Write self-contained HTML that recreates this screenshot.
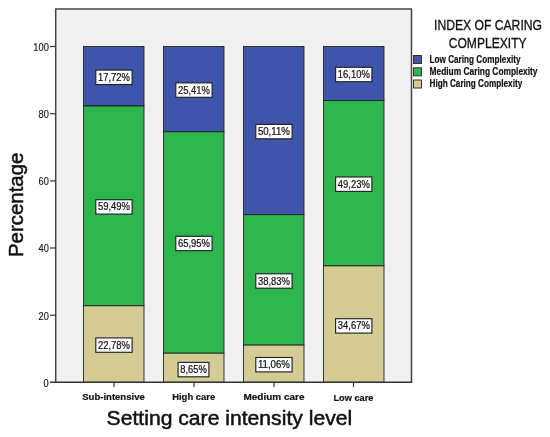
<!DOCTYPE html>
<html><head><meta charset="utf-8">
<style>
html,body{margin:0;padding:0;background:#fff;}
svg{display:block;}
text{font-family:"Liberation Sans",sans-serif;fill:#111;}
.v{font-size:10.2px;text-anchor:middle;stroke:#111;stroke-width:0.22px;}
.yt{font-size:10.2px;text-anchor:end;fill:#111;stroke:#111;stroke-width:0.12px;}
.xl{font-size:9.8px;font-weight:bold;text-anchor:middle;stroke:#111;stroke-width:0.2px;}
.lg{font-size:10px;font-weight:bold;stroke:#111;stroke-width:0.2px;}
.lt{font-size:14.1px;text-anchor:middle;stroke:#111;stroke-width:0.3px;}
.ax{font-size:20.6px;stroke:#111;stroke-width:0.5px;}
</style></head><body>
<svg width="550" height="437" viewBox="0 0 550 437">
<rect x="0" y="0" width="550" height="437" fill="#fff"/>
<!-- plot area -->
<rect x="56" y="9" width="355.5" height="373.3" fill="#f0f0f0"/>
<!-- bars -->
<g stroke="#1c1c1c" stroke-width="0.85">
<rect x="83.5" y="46.5" width="60.5" height="59.5" fill="#3f55ac"/>
<rect x="83.5" y="106" width="60.5" height="199.8" fill="#2cb64c"/>
<rect x="83.5" y="305.8" width="60.5" height="76.5" fill="#d5cb95"/>

<rect x="163.5" y="46.5" width="60.5" height="85.3" fill="#3f55ac"/>
<rect x="163.5" y="131.8" width="60.5" height="221.4" fill="#2cb64c"/>
<rect x="163.5" y="353.2" width="60.5" height="29.1" fill="#d5cb95"/>

<rect x="243.5" y="46.5" width="60.5" height="168.2" fill="#3f55ac"/>
<rect x="243.5" y="214.7" width="60.5" height="130.4" fill="#2cb64c"/>
<rect x="243.5" y="345.1" width="60.5" height="37.2" fill="#d5cb95"/>

<rect x="323.5" y="46.5" width="60.5" height="54" fill="#3f55ac"/>
<rect x="323.5" y="100.5" width="60.5" height="165.4" fill="#2cb64c"/>
<rect x="323.5" y="265.9" width="60.5" height="116.4" fill="#d5cb95"/>
</g>
<!-- frame -->
<g fill="none" stroke="#444" stroke-width="1.5">
<path d="M55.7 382.3 V9 H411.5 V382.3"/>
</g>
<line x1="50" y1="382.3" x2="412.2" y2="382.3" stroke="#333" stroke-width="1.4"/>
<!-- y ticks -->
<g stroke="#333" stroke-width="1.2">
<line x1="50" y1="46.5" x2="56" y2="46.5"/>
<line x1="50" y1="113.7" x2="56" y2="113.7"/>
<line x1="50" y1="180.9" x2="56" y2="180.9"/>
<line x1="50" y1="248" x2="56" y2="248"/>
<line x1="50" y1="315.2" x2="56" y2="315.2"/>
<line x1="114" y1="382.3" x2="114" y2="387"/>
<line x1="194" y1="382.3" x2="194" y2="387"/>
<line x1="274" y1="382.3" x2="274" y2="387"/>
<line x1="353.5" y1="382.3" x2="353.5" y2="387"/>
</g>
<g class="yt">
<text x="48.8" y="50.9" textLength="15.5" lengthAdjust="spacingAndGlyphs">100</text>
<text x="48.8" y="118.1" textLength="10.3" lengthAdjust="spacingAndGlyphs">80</text>
<text x="48.8" y="185.3" textLength="10.3" lengthAdjust="spacingAndGlyphs">60</text>
<text x="48.8" y="252.4" textLength="10.3" lengthAdjust="spacingAndGlyphs">40</text>
<text x="48.8" y="319.6" textLength="10.3" lengthAdjust="spacingAndGlyphs">20</text>
<text x="48.8" y="386.7" textLength="5.2" lengthAdjust="spacingAndGlyphs">0</text>
</g>
<!-- value labels -->
<g fill="#fff" stroke="#222" stroke-width="1.15">
<rect x="95.8" y="337.9" width="36.3" height="14.4"/>
<rect x="95.8" y="199.7" width="36.3" height="14.4"/>
<rect x="95.8" y="70.1" width="36.3" height="14.4"/>
<rect x="178.1" y="362.4" width="30.8" height="14.4"/>
<rect x="175.8" y="236.3" width="36.3" height="14.4"/>
<rect x="175.8" y="82.9" width="36.3" height="14.4"/>
<rect x="255.8" y="357.5" width="36.3" height="14.4"/>
<rect x="255.8" y="273.8" width="36.3" height="14.4"/>
<rect x="255.8" y="124.4" width="36.3" height="14.4"/>
<rect x="335.6" y="318.7" width="36.3" height="14.4"/>
<rect x="335.6" y="177.0" width="36.3" height="14.4"/>
<rect x="335.6" y="67.3" width="36.3" height="14.4"/>
</g>
<g class="v">
<text x="113.9" y="348.6" textLength="32.0" lengthAdjust="spacingAndGlyphs">22,78%</text>
<text x="113.9" y="210.4" textLength="32.0" lengthAdjust="spacingAndGlyphs">59,49%</text>
<text x="113.9" y="80.8" textLength="32.0" lengthAdjust="spacingAndGlyphs">17,72%</text>
<text x="193.5" y="373.1" textLength="26.6" lengthAdjust="spacingAndGlyphs">8,65%</text>
<text x="194.0" y="247.0" textLength="32.0" lengthAdjust="spacingAndGlyphs">65,95%</text>
<text x="194.0" y="93.6" textLength="32.0" lengthAdjust="spacingAndGlyphs">25,41%</text>
<text x="273.9" y="368.2" textLength="32.0" lengthAdjust="spacingAndGlyphs">11,06%</text>
<text x="273.9" y="284.5" textLength="32.0" lengthAdjust="spacingAndGlyphs">38,83%</text>
<text x="273.9" y="135.1" textLength="32.0" lengthAdjust="spacingAndGlyphs">50,11%</text>
<text x="353.8" y="329.4" textLength="32.0" lengthAdjust="spacingAndGlyphs">34,67%</text>
<text x="353.8" y="187.7" textLength="32.0" lengthAdjust="spacingAndGlyphs">49,23%</text>
<text x="353.8" y="78.0" textLength="32.0" lengthAdjust="spacingAndGlyphs">16,10%</text>
</g>
<!-- x labels -->
<g class="xl">
<text x="113.5" y="400.1" textLength="62.5" lengthAdjust="spacingAndGlyphs">Sub-intensive</text>
<text x="193.7" y="400.1" textLength="43" lengthAdjust="spacingAndGlyphs">High care</text>
<text x="274" y="400.1" textLength="61" lengthAdjust="spacingAndGlyphs">Medium care</text>
<text x="353.4" y="401.4" textLength="40" lengthAdjust="spacingAndGlyphs">Low care</text>
</g>
<text class="ax" x="106.6" y="425" textLength="245.6" lengthAdjust="spacingAndGlyphs">Setting care intensity level</text>
<text class="ax" transform="translate(22.7,257) rotate(-90)" textLength="104.4" lengthAdjust="spacingAndGlyphs">Percentage</text>
<!-- legend -->
<text class="lt" x="488" y="29.9" textLength="108" lengthAdjust="spacingAndGlyphs">INDEX OF CARING</text>
<text class="lt" x="487.7" y="47.7" textLength="78" lengthAdjust="spacingAndGlyphs">COMPLEXITY</text>
<g stroke="#333" stroke-width="1">
<rect x="413.5" y="55.5" width="8" height="8" fill="#3f55ac"/>
<rect x="413.5" y="67.8" width="8" height="8" fill="#2cb64c"/>
<rect x="413.5" y="80" width="8" height="8" fill="#d5cb95"/>
</g>
<g class="lg">
<text x="429.5" y="63" textLength="91" lengthAdjust="spacingAndGlyphs">Low Caring Complexity</text>
<text x="429.5" y="75.2" textLength="108" lengthAdjust="spacingAndGlyphs">Medium Caring Complexity</text>
<text x="429.5" y="87.4" textLength="92.7" lengthAdjust="spacingAndGlyphs">High Caring Complexity</text>
</g>
</svg>
</body></html>
